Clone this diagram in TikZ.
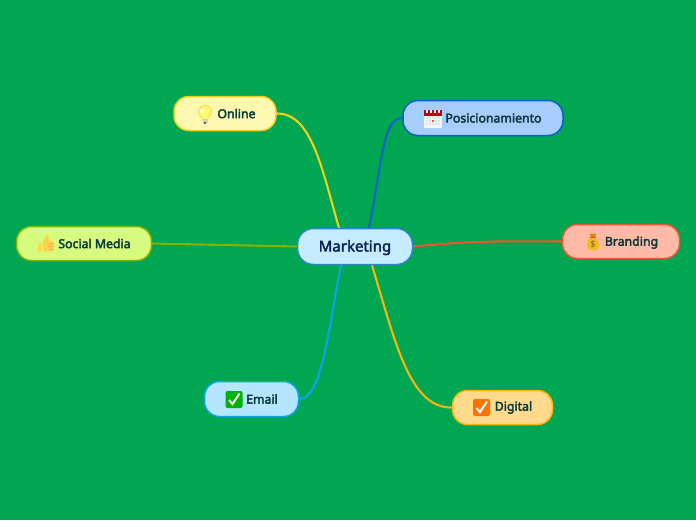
\documentclass[tikz,border=0pt]{standalone}
\usepackage{fontspec}
\setmainfont{Noto Sans}
\newcommand{\heavy}[1]{\special{pdf:code 2 Tr 0.38 w}#1\special{pdf:code 0 Tr 1 w}}
\usetikzlibrary{backgrounds,calc}
\definecolor{bg}{HTML}{00A651}
\definecolor{ink}{HTML}{0B3B3C}
\definecolor{navy}{HTML}{0B2352}
\definecolor{cOnline}{HTML}{F2CF1E}\definecolor{fOnline}{HTML}{FFF8B0}
\definecolor{cPos}{HTML}{0A62C8}\definecolor{fPos}{HTML}{A9CCFF}
\definecolor{cBrand}{HTML}{EE5530}\definecolor{fBrand}{HTML}{FFBBA8}
\definecolor{cSocial}{HTML}{84B400}\definecolor{fSocial}{HTML}{D6FB7E}
\definecolor{cEmail}{HTML}{0CA5E6}\definecolor{fEmail}{HTML}{B5E6FF}
\definecolor{cDigital}{HTML}{FBB40F}\definecolor{fDigital}{HTML}{FFD98C}
\definecolor{cMkt}{HTML}{2F86C8}\definecolor{fMkt}{HTML}{C6ECFF}
\tikzset{
  x=1pt,y=-1pt,
  topicbox/.style={draw=c#1,fill=f#1,line width=1.5pt,rounded corners=15pt,inner sep=0pt,text=ink,font=\fontsize{12.3}{14}\selectfont,anchor=center},
  link/.style={draw=#1,line width=2.1pt,line cap=round},
  pics/bulb/.style={code={
    \fill[gray!35] (-2.5,5) rectangle (2.5,8.5);
    \fill[gray!70!black] (-1.2,8.2) rectangle (1.2,9.6);
    \fill[yellow!55!white,draw=yellow!60!orange!80!white,line width=.6pt] (-2.5,5.2) .. controls (-3,2.5) and (-6.5,1.5) .. (-6.5,-2.5) .. controls (-6.5,-10.5) and (6.5,-10.5) .. (6.5,-2.5) .. controls (6.5,1.5) and (3,2.5) .. (2.5,5.2) -- cycle;
    \fill[white,opacity=.6] (-3,-3) circle (2.3);
  }},
  pics/calendar/.style={code={
    \fill[white!92!gray] (-9,-9) rectangle (9,9);
    \fill[red!80!black] (-9,-9) rectangle (9,-3.5);
    \foreach \a in {-6,-2,2,6}\fill[white] (\a-.6,-9) rectangle (\a+.6,-6.5);
    \foreach \b in {-1,2,5}\foreach \a in {-6,-3,0,3,6}\fill[gray!22] (\a-1,\b-.8) rectangle (\a+1,\b+.8);
    \fill[red!70] (-1,1.2) rectangle (1,2.8);
  }},
  pics/bag/.style={code={
    \fill[yellow!55!orange!85!brown] (-2.5,-4) .. controls (-7,-1) and (-7.5,8) .. (-3,8.5) -- (3,8.5) .. controls (7.5,8) and (7,-1) .. (2.5,-4) -- cycle;
    \fill[orange!65!brown] (-3.5,-8) -- (3.5,-8) -- (2,-4) -- (-2,-4) -- cycle;
    \fill[brown!85!black] (-2.8,-4.6) rectangle (2.8,-3.4);
    \node[text=brown!70!black,font=\bfseries\fontsize{9}{9}\selectfont,inner sep=0pt] (dollarsign) at (0,3) {\$};
  }},
  pics/thumb/.style={code={
    \fill[orange!40!yellow!70!white] (-8,-1) rectangle (-3.8,8) ;
    \fill[orange!50!yellow!70!white,rounded corners=1.5pt] (-3.2,-1.5) -- (-0.5,-6) -- (0,-9) -- (2.5,-8.5) -- (2.6,-3) -- (8,-2.5) -- (8,8) -- (-3.2,8) -- cycle;
    \draw[orange!65,line width=.5pt] (2.8,0) -- (8,0) (2.8,2.7) -- (8,2.7) (2.8,5.4) -- (8,5.4);
  }},
  pics/tick/.style={code={
    \fill[#1,rounded corners=2pt] (-8.5,-8.5) rectangle (8.5,8.5);
    \draw[white,line width=2pt,line join=miter] (-5,0.5) -- (-1.5,4.5) -- (5.5,-6);
  }},
}
\begin{document}
\begin{tikzpicture}
\useasboundingbox (0,0) rectangle (696,520);
\node[topicbox=Mkt,text=navy,font=\fontsize{15}{18}\selectfont,minimum width=115pt,minimum height=36pt,rounded corners=16pt,text height=13pt,text depth=3pt] (mkt) at (355,246.5) {\heavy{Marketing}};
\node[topicbox=Online,minimum width=102pt,minimum height=34pt] (online) at (225,113.5) {\hspace*{23pt}\heavy{Online}};
\node[topicbox=Pos,minimum width=160pt,minimum height=35pt] (pos) at (483,118) {\hspace*{21pt}\heavy{Posicionamiento}};
\node[topicbox=Brand,minimum width=117pt,minimum height=34pt,text height=11pt,text depth=2.5pt] (brand) at (621,241.5) {\hspace*{21pt}\heavy{Branding}};
\node[topicbox=Social,minimum width=135pt,minimum height=34pt] (social) at (84,243.5) {\hspace*{21pt}\heavy{Social Media}};
\node[topicbox=Email,minimum width=94pt,minimum height=35pt] (email) at (251.5,399) {\hspace*{21pt}\heavy{Email}};
\node[topicbox=Digital,minimum width=100pt,minimum height=34pt] (digital) at (502.5,407.5) {\hspace*{22pt}\heavy{Digital}};
\coordinate (mOnline) at ($(mkt.north)+(-16,0)$);
\coordinate (mPos) at ($(mkt.north)+(14,0)$);
\coordinate (mEmail) at ($(mkt.south)+(-14,0)$);
\coordinate (mDigital) at ($(mkt.south)+(17,0)$);
\begin{scope}[on background layer]
\fill[bg] (0,0) rectangle (696,520);
\draw[link=cOnline] (online.east) .. controls (312,113) and (322,170) .. (mOnline);
\draw[link=cPos] (pos.west) .. controls (382,118) and (382,165) .. (mPos);
\draw[link=cBrand] (mkt.east) .. controls (470,241) and (500,241) .. (brand.west);
\draw[link=cSocial] (social.east) -- (mkt.west);
\draw[link=cEmail] (email.east) .. controls (322,399) and (328,330) .. (mEmail);
\draw[link=cDigital] (digital.west) .. controls (410,408) and (396,345) .. (mDigital);
\end{scope}
\pic at ($(online.center)+(-20,0.5)$) {bulb};
\pic at ($(pos.center)+(-50,1)$) {calendar};
\pic at ($(brand.center)+(-28,0)$) {bag};
\pic at ($(social.center)+(-38,0)$) {thumb};
\pic at ($(email.center)+(-17.5,0.5)$) {tick={green!70!black}};
\pic at ($(digital.center)+(-21,0)$) {tick={orange!90!red}};
\end{tikzpicture}
\end{document}
